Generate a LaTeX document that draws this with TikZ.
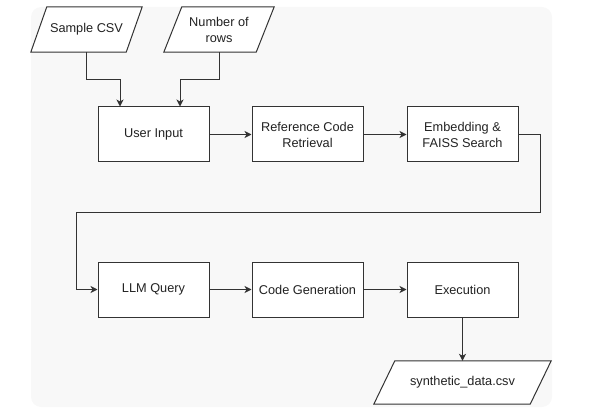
\documentclass[tikz,border=0pt]{standalone}
\usepackage{fontspec}
\setmainfont{Liberation Sans}
\usetikzlibrary{arrows.meta,calc}
\definecolor{bgc}{HTML}{F8F8F8}
\definecolor{ln}{HTML}{333333}
\definecolor{tx}{HTML}{222222}
\begin{document}
\begin{tikzpicture}[x=1pt,y=-1pt,
  every node/.style={font=\fontsize{12.75}{16}\selectfont,text=tx,align=center,inner sep=0pt},
  procbox/.style={draw=ln,line width=1pt,fill=white,minimum width=111pt,minimum height=55pt},
  pbound/.style={minimum height=45pt},
  pline/.style={draw=ln,line width=1pt,fill=white},
  conn/.style={draw=ln,line width=1pt,-{Stealth[length=7pt,width=7pt,inset=2pt]}},
  plain/.style={draw=ln,line width=1pt}]
\useasboundingbox (0,0) rectangle (589,409);
\fill[bgc,rounded corners=10pt] (31,7) rectangle (552,407);

% parallelogram bounds (invisible nodes for anchors)
\node[pbound,minimum width=111pt] (s1) at (86.5,29.5) {};
\node[pbound,minimum width=110pt] (nr) at (219,29.5) {};
\node[minimum width=177pt,minimum height=43pt] (out) at (462.5,382.5) {};

\path[pline] ([xshift=16pt]s1.north west) -- (s1.north east) -- ([xshift=-16pt]s1.south east) -- (s1.south west) -- cycle;
\path[pline] ([xshift=18pt]nr.north west) -- (nr.north east) -- ([xshift=-18pt]nr.south east) -- (nr.south west) -- cycle;
\path[pline] ([xshift=21pt]out.north west) -- (out.north east) -- ([xshift=-21pt]out.south east) -- (out.south west) -- cycle;

\node (s1t) at (s1.center) {Sample CSV};
\node (nrt) at (nr.center) {Number of\\rows};
\node (outt) at (out.center) {synthetic\_data.csv};

\node[procbox] (ui)  at (153.5,134.5) {User Input};
\node[procbox] (ref) at (307.5,134.5) {Reference Code\\Retrieval};
\node[procbox] (emb) at (462.5,134.5) {Embedding \&\\FAISS Search};
\node[procbox] (llm) at (153.5,289.5) {LLM Query};
\node[procbox] (gen) at (307.5,289.5) {Code Generation};
\node[procbox] (exe) at (462.5,289.5) {Execution};

\coordinate (c1) at (540,212);
\coordinate (c2) at (76,212);

\draw[conn] (s1.south) -- ++(0,27) -| ([xshift=-33.5pt]ui.north);
\draw[conn] (nr.south) -- ++(0,27) -| ([xshift=26.5pt]ui.north);
\draw[conn] (ui.east) -- (ref.west);
\draw[conn] (ref.east) -- (emb.west);
\draw[plain] (emb.east) -| (c1) -- (c2);
\draw[conn] (c2) |- (llm.west);
\draw[conn] (llm.east) -- (gen.west);
\draw[conn] (gen.east) -- (exe.west);
\draw[conn] (exe.south) -- (out.north);
\end{tikzpicture}
\end{document}
